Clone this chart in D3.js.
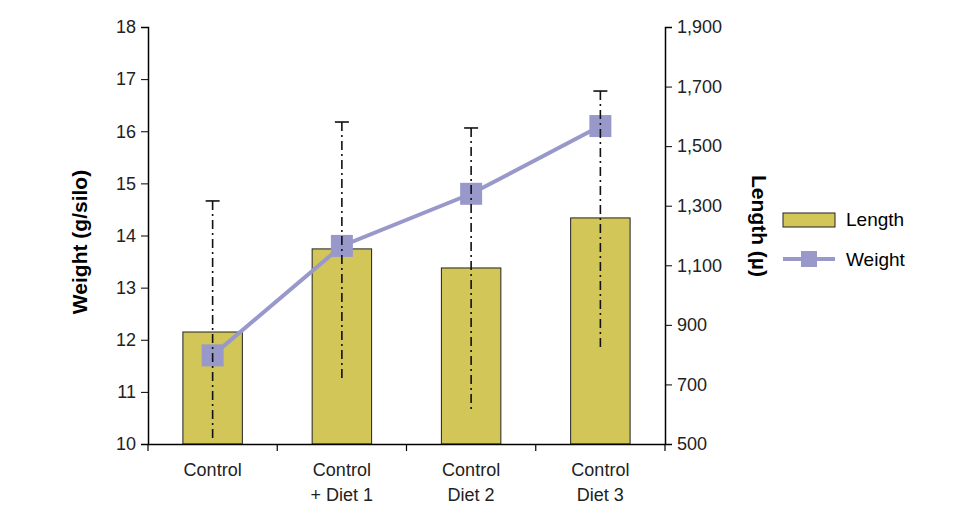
<!DOCTYPE html>
<html lang="en">
<head>
<meta charset="UTF-8" />
<title>Weight and Length</title>
<style>
  body { margin: 0; background: #fff; font-family: Arial, "Liberation Sans", sans-serif; }
</style>
</head>
<body>
<svg id="chart" width="960" height="518"></svg>
<script src="https://d3js.org/d3.v7.min.js"></script>
<script>
  const categories = ["Control", "Control\n+ Diet 1", "Control\nDiet 2", "Control\nDiet 3"];
  const lengthValues = [876, 1155, 1091, 1259];
  const lengthHigh = [1316, 1581, 1561, 1685];
  const lengthLow = [520, 718, 611, 822];
  const weightValues = [11.7, 13.8, 14.8, 16.1];
  const leftTicks = [10, 11, 12, 13, 14, 15, 16, 17, 18];
  const rightTicks = [500, 700, 900, 1100, 1300, 1500, 1700, 1900];

  const svg = d3.select("#chart");
  const m = { left: 148, right: 665, top: 27, bottom: 444 };

  const x = d3.scaleBand().domain(categories).range([m.left, m.right]).paddingInner(0.54).paddingOuter(0.27);
  const yL = d3.scaleLinear().domain([10, 18]).range([m.bottom, m.top]);
  const yR = d3.scaleLinear().domain([500, 1900]).range([m.bottom, m.top]);
  const cx = d => x(d) + x.bandwidth() / 2;

  // bars (length)
  svg.selectAll("rect.bar").data(categories).join("rect")
    .attr("x", d => x(d)).attr("width", x.bandwidth())
    .attr("y", (d, i) => yR(lengthValues[i]))
    .attr("height", (d, i) => m.bottom - yR(lengthValues[i]))
    .attr("fill", "#d1c657").attr("stroke", "#222").attr("stroke-width", 1);

  // weight line
  const line = d3.line().x((d, i) => cx(categories[i])).y(d => yL(d));
  svg.append("path").datum(weightValues).attr("d", line)
    .attr("fill", "none").attr("stroke", "#9998cb").attr("stroke-width", 4);
  svg.selectAll("rect.pt").data(weightValues).join("rect")
    .attr("x", (d, i) => cx(categories[i]) - 11).attr("y", d => yL(d) - 11)
    .attr("width", 22).attr("height", 22).attr("fill", "#9998cb");

  // error bars
  categories.forEach((c, i) => {
    const g = svg.append("g").attr("stroke", "#111").attr("stroke-width", 1.6);
    g.append("line").attr("x1", cx(c)).attr("x2", cx(c))
      .attr("y1", yR(lengthHigh[i])).attr("y2", yR(lengthLow[i]))
      .attr("stroke-dasharray", "9,4,2,4");
    g.append("line").attr("x1", cx(c) - 7).attr("x2", cx(c) + 7)
      .attr("y1", yR(lengthHigh[i])).attr("y2", yR(lengthHigh[i]));
  });

  // axes
  const styleAxis = g => {
    g.select(".domain").attr("stroke-width", 1.5);
    g.selectAll(".tick text").attr("font-size", 18).attr("font-family", "Arial, 'Liberation Sans', sans-serif").attr("fill", "#222");
  };
  svg.append("g").attr("transform", `translate(${m.left},0)`)
    .call(d3.axisLeft(yL).tickValues(leftTicks).tickSize(7).tickPadding(5))
    .call(styleAxis);
  svg.append("g").attr("transform", `translate(${m.right},0)`)
    .call(d3.axisRight(yR).tickValues(rightTicks).tickSize(7).tickPadding(5).tickFormat(d3.format(",")))
    .call(styleAxis);
  svg.append("g").attr("transform", `translate(0,${m.bottom})`)
    .call(d3.axisBottom(x).tickSize(0).tickFormat(""))
    .call(styleAxis);
  categories.forEach(c => {
    const t = svg.append("text").attr("text-anchor", "middle").attr("font-size", 18).attr("fill", "#222");
    c.split("\n").forEach((s, k) => t.append("tspan").attr("x", cx(c)).attr("y", 476 + k * 25).text(s));
  });
  // category separators on x axis
  svg.selectAll("line.sep").data(d3.range(categories.length + 1)).join("line")
    .attr("x1", i => m.left + i * x.step()).attr("x2", i => m.left + i * x.step())
    .attr("y1", m.bottom).attr("y2", m.bottom + 7).attr("stroke", "#000").attr("stroke-width", 1.2);

  // axis titles
  svg.append("text").attr("transform", "translate(87,242) rotate(-90)")
    .attr("text-anchor", "middle").attr("font-size", 21).attr("font-weight", "bold").text("Weight (g/silo)");
  svg.append("text").attr("transform", "translate(752,226) rotate(90)")
    .attr("text-anchor", "middle").attr("font-size", 21).attr("font-weight", "bold").text("Length (µ)");

  // legend
  svg.append("rect").attr("x", 783).attr("y", 213).attr("width", 52).attr("height", 14)
    .attr("fill", "#d1c657").attr("stroke", "#222");
  svg.append("text").attr("x", 846).attr("y", 226).attr("font-size", 19).text("Length");
  svg.append("line").attr("x1", 783).attr("x2", 835).attr("y1", 259).attr("y2", 259)
    .attr("stroke", "#9998cb").attr("stroke-width", 4);
  svg.append("rect").attr("x", 801).attr("y", 251).attr("width", 16).attr("height", 16).attr("fill", "#9998cb");
  svg.append("text").attr("x", 846).attr("y", 266).attr("font-size", 19).text("Weight");
</script>
</body>
</html>
